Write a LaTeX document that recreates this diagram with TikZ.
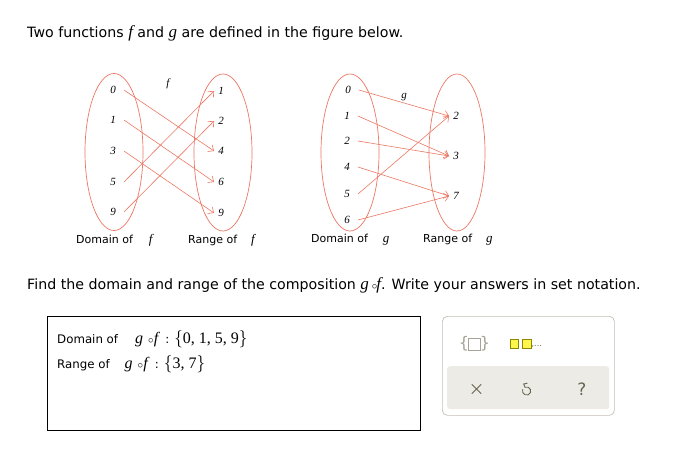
\documentclass[tikz,border=0pt]{standalone}
\usepackage{fontspec}
\setmainfont{DejaVu Sans}
\newfontfamily\serifit{Liberation Serif}[ItalicFont=* Italic]
\usetikzlibrary{arrows.meta,shapes.geometric}
\definecolor{salmon}{RGB}{236,120,100}
\definecolor{tbborder}{RGB}{196,192,180}
\definecolor{tbfill}{RGB}{237,235,230}
\definecolor{tbicon}{RGB}{105,100,80}
\newcommand{\mi}[2][16]{{\serifit\itshape\fontsize{#1}{#1}\selectfont #2}}
\newcommand{\ringop}{{\fontsize{11}{11}\selectfont$\circ$}}
\tikzset{
  setellipse/.style={ellipse, draw=salmon, line width=0.7pt, minimum width=58pt, minimum height=157pt, inner sep=0pt},
  elem/.style={font=\serifit\itshape\fontsize{11}{11}\selectfont, inner sep=0pt},
  arr/.style={draw=salmon, line width=0.6pt, -{Straight Barb[length=4.5pt,width=8pt]}},
  caption/.style={font=\fontsize{11}{12}\selectfont, anchor=west, inner sep=0pt},
  anstext/.style={font=\fontsize{11.8}{13}\selectfont, anchor=west, inner sep=0pt},
  bodytext/.style={font=\fontsize{14.2}{16}\selectfont, anchor=west, inner sep=0pt},
  iconline/.style={draw=tbicon, line width=0.9pt, line cap=round},
}
\begin{document}
\begin{tikzpicture}[x=1pt,y=-1pt]
\useasboundingbox[fill=white] (0,0) rectangle (691,455);

\node[bodytext] (title) at (27,33) {Two functions \mi[17]{f} and \mi[17]{g} are defined in the figure below.};

% ---- f diagram
\node[setellipse] (fdom) at (114,152) {};
\node[setellipse] (fran) at (223,152.5) {};
\node[elem] (fd0) at (113,90) {0};
\node[elem] (fd1) at (113,120) {1};
\node[elem] (fd3) at (113,151) {3};
\node[elem] (fd5) at (113,182) {5};
\node[elem] (fd9) at (113,212) {9};
\node[elem] (fr1) at (221,91) {1};
\node[elem] (fr2) at (221,121) {2};
\node[elem] (fr4) at (221,151) {4};
\node[elem] (fr6) at (221,182) {6};
\node[elem] (fr9) at (221,213) {9};
\node[elem] (flab) at (168,84) {f};
\foreach \a/\b in {fd0/fr4, fd1/fr6, fd3/fr9, fd5/fr1, fd9/fr2}
  \draw[arr] ([xshift=8pt]\a.east) -- ([xshift=-4pt]\b.west);
\node[caption] (fdomcap) at (76,240) {Domain of\hspace{16pt}\mi[13]{f}};
\node[caption] (francap) at (188,240) {Range of\hspace{14pt}\mi[13]{f}};

% ---- g diagram
\node[setellipse] (gdom) at (350,152.5) {};
\node[setellipse, minimum width=56pt] (gran) at (457,152.5) {};
\node[elem] (gd0) at (348,90) {0};
\node[elem] (gd1) at (347,116) {1};
\node[elem] (gd2) at (347,141) {2};
\node[elem] (gd4) at (347,167) {4};
\node[elem] (gd5) at (347,194) {5};
\node[elem] (gd6) at (347,220) {6};
\node[elem] (gr2) at (456,116) {2};
\node[elem] (gr3) at (456,156) {3};
\node[elem] (gr7) at (456,196) {7};
\node[elem] (glab) at (404,97) {g};
\foreach \a/\b in {gd0/gr2, gd1/gr3, gd2/gr3, gd4/gr7, gd5/gr2, gd6/gr7}
  \draw[arr] ([xshift=8pt]\a.east) -- ([xshift=-4pt]\b.west);
\node[caption] (gdomcap) at (311,240) {Domain of\hspace{15pt}\mi[13]{g}};
\node[caption] (grancap) at (423,240) {Range of\hspace{14pt}\mi[13]{g}};

% ---- question
\node[bodytext] (question) at (27,285) {Find the domain and range of the composition \mi[17]{g}\hspace{3pt}{\fontsize{11}{11}\selectfont$\circ$}\kern-1pt\mi[17]{f}. Write your answers in set notation.};

% ---- answer box
\node[draw=black, line width=1pt, minimum width=373pt, minimum height=114pt, inner sep=0pt, anchor=north west] (ansbox) at (47,316) {};
\node[anstext] (ansdom) at (57,339) {Domain of\hspace{17pt}\mi{g}\hspace{5pt}\ringop\hspace{0.3pt}\mi{f}\hspace{7pt}:\hspace{5pt}{\serifit\fontsize{16}{16}\selectfont$\{$0, 1, 5, 9$\}$}};
\node[anstext] (ansran) at (57,364) {Range of\hspace{15pt}\mi{g}\hspace{5pt}\ringop\hspace{0.3pt}\mi{f}\hspace{7pt}:\hspace{5pt}{\serifit\fontsize{16}{16}\selectfont$\{$3, 7$\}$}};

% ---- toolbar
\node[draw=tbborder, line width=0.7pt, rounded corners=5pt, minimum width=172pt, minimum height=99pt, inner sep=0pt, anchor=north west] (tool) at (442,316) {};
\node[fill=tbfill, rounded corners=3pt, minimum width=162pt, minimum height=43pt, inner sep=0pt, anchor=north west] (toolpanel) at (447,366) {};
\node[draw=tbicon!60, line width=0.9pt, minimum width=12pt, minimum height=12pt, inner sep=0pt] (setsq) at (474.5,344) {};
\node[text=tbicon!60, font=\fontsize{16}{16}\selectfont, inner sep=0pt] (lbrace) at (464,344) {\{};
\node[text=tbicon!60, font=\fontsize{16}{16}\selectfont, inner sep=0pt] (rbrace) at (485,344) {\}};
\node[draw=olive, fill=yellow!70!white, line width=0.8pt, minimum width=8.5pt, minimum height=8.5pt, inner sep=0pt] (ysq1) at (514.5,344) {};
\node[draw=olive, fill=yellow!70!white, line width=0.8pt, minimum width=8.5pt, minimum height=8.5pt, inner sep=0pt] (ysq2) at (527,344) {};
\node[text=tbicon, font=\fontsize{8}{8}\selectfont, anchor=west, inner sep=0pt] (ydots) at (531.5,346) {,...};
\coordinate (xc) at (476.5,389);
\draw[iconline] ([shift={(-4.5,-4.5)}]xc) -- ([shift={(4.5,4.5)}]xc);
\draw[iconline] ([shift={(-4.5,4.5)}]xc) -- ([shift={(4.5,-4.5)}]xc);
\coordinate (uc) at (526.5,391);
\draw[iconline] ([shift={(-1.5,-3.8)}]uc) arc[start angle=112, end angle=-200, radius=4.1pt];
\draw[iconline] ([shift={(-1.5,-3.8)}]uc) -- ([shift={(-2.8,-7)}]uc) -- ([shift={(0.8,-7.8)}]uc);
\node[text=tbicon, font=\fontsize{17}{17}\selectfont, inner sep=0pt] (helpicon) at (582,389) {?};
\end{tikzpicture}
\end{document}
